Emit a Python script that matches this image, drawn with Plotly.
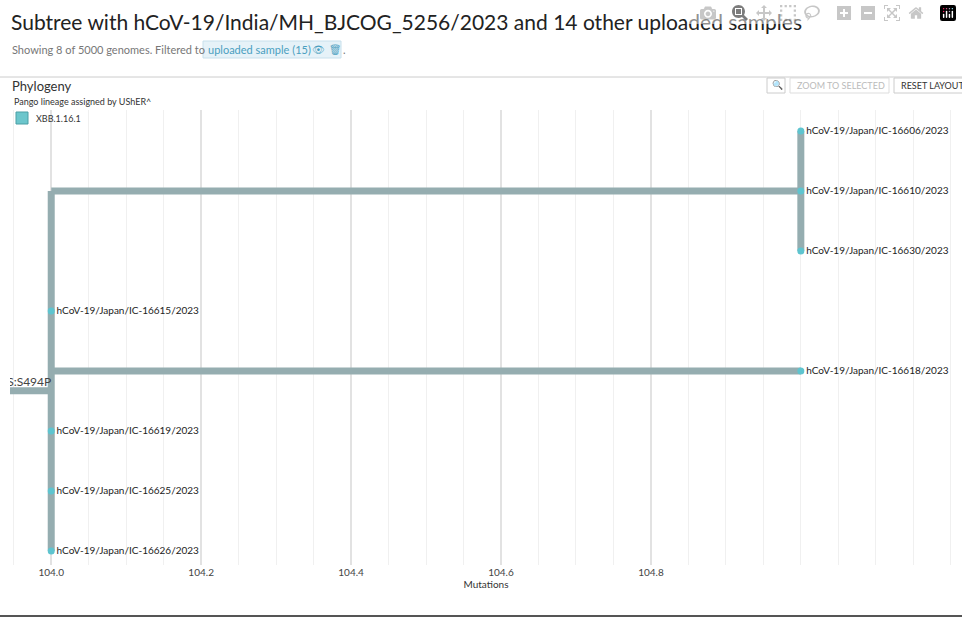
import plotly.graph_objects as go

leaf_names = ["hCoV-19/Japan/IC-16606/2023", "hCoV-19/Japan/IC-16610/2023", "hCoV-19/Japan/IC-16630/2023",
              "hCoV-19/Japan/IC-16615/2023", "hCoV-19/Japan/IC-16618/2023", "hCoV-19/Japan/IC-16619/2023",
              "hCoV-19/Japan/IC-16625/2023", "hCoV-19/Japan/IC-16626/2023"]
leaf_x = [105.0, 105.0, 105.0, 104.0, 105.0, 104.0, 104.0, 104.0]
leaf_y = [0, 1, 2, 3, 4, 5, 6, 7]
# branches: (x0, y0, x1, y1)
branches = [(103.9, 4.33, 104.0, 4.33), (104.0, 1, 104.0, 7), (104.0, 1, 105.0, 1),
            (105.0, 0, 105.0, 2), (104.0, 4, 105.0, 4)]
root_label = "S:S494P"
tick_vals = [104.0, 104.2, 104.4, 104.6, 104.8]

X0, X1, Y0, Y1 = 10, 962, 110, 565
def px(x): return (x - X0) / (X1 - X0)
def py(y): return (Y1 - y) / (Y1 - Y0)

fig = go.Figure()
bc = "#95adb0"
for (a, b, c, d) in branches:
    fig.add_trace(go.Scatter(x=[a, c], y=[b, d], mode="lines", line=dict(color=bc, width=7),
                             hoverinfo="skip", showlegend=False))
fig.add_trace(go.Scatter(x=leaf_x, y=leaf_y, mode="markers+text", text=leaf_names,
                         textposition="middle right", textfont=dict(size=10, color="#222", family="Lato"),
                         marker=dict(color="#5ec4cf", size=7), showlegend=False, cliponaxis=False))
fig.add_trace(go.Scatter(x=[104.0], y=[4.2], mode="text", text=[root_label], textposition="middle left",
                         textfont=dict(size=12, color="#444", family="Lato"), showlegend=False, cliponaxis=True))

fig.update_xaxes(range=[103.945, 105.215], tickvals=tick_vals, ticktext=[f"{v:.1f}" for v in tick_vals],
                 showgrid=True, gridcolor="#e2e2e2", gridwidth=2, zeroline=False,
                 minor=dict(dtick=0.05, showgrid=True, gridcolor="#f0f0f0", gridwidth=1, tick0=104.0),
                 title=dict(text="Mutations", font=dict(size=10, color="#333"), standoff=2),
                 tickfont=dict(size=10, color="#444"), ticks="", showline=False)
fig.update_yaxes(range=[7.233, -0.35], visible=False)

ann = [
    dict(x=px(9), y=py(21), text="Subtree with hCoV-19/India/MH_BJCOG_5256/2023 and 14 other uploaded samples",
         font=dict(size=21, color="#222")),
    dict(x=px(10), y=py(49), text="Showing 8 of 5000 genomes. Filtered to", font=dict(size=11, color="#777")),
    dict(x=px(206), y=py(49), text="uploaded sample (15)", font=dict(size=11, color="#4a9fc0")),
    dict(x=px(341), y=py(49), text=".", font=dict(size=11, color="#777")),
    dict(x=px(10), y=py(86), text="Phylogeny", font=dict(size=13, color="#333")),
    dict(x=px(12), y=py(101), text="Pango lineage assigned by UShER^", font=dict(size=9, color="#333")),
    dict(x=px(34), y=py(118), text="XBB.1.16.1", font=dict(size=9, color="#333")),
    dict(x=px(795), y=py(86), text="ZOOM TO SELECTED", font=dict(size=9, color="#bbb")),
    dict(x=px(899), y=py(86), text="RESET LAYOUT", font=dict(size=9, color="#333")),
    dict(x=px(770), y=py(85), text="🔍", font=dict(size=9, color="#333")),
    dict(x=px(310), y=py(49), text="👁", font=dict(size=10, color="#4a9fc0")),
    dict(x=px(327), y=py(49), text="🗑", font=dict(size=10, color="#4a9fc0")),
]
for a in ann:
    a.update(xref="paper", yref="paper", xanchor="left", yanchor="middle", showarrow=False)
    a["font"]["family"] = "Lato"
    fig.add_annotation(**a)

def rect(x0, y0, x1, y1, **kw):
    fig.add_shape(type="rect", xref="paper", yref="paper", x0=px(x0), x1=px(x1), y0=py(y1), y1=py(y0), **kw)
rect(203, 41, 341, 58, fillcolor="#e6f2f8", line=dict(color="#c8e0ec", width=1), layer="below")
rect(16, 112, 28, 124, fillcolor="#6cc6cc", line=dict(color="#4a9fa5", width=1))
rect(767, 78, 785, 93, line=dict(color="#ccc", width=1))
rect(790, 78, 889, 93, line=dict(color="#ddd", width=1))
rect(894, 78, 970, 93, line=dict(color="#ccc", width=1))
fig.add_shape(type="line", xref="paper", yref="paper", x0=px(0), x1=px(962), y0=py(77), y1=py(77),
              line=dict(color="#ccc", width=1))
fig.add_shape(type="line", xref="paper", yref="paper", x0=px(0), x1=px(962), y0=py(616), y1=py(616),
              line=dict(color="#555", width=2))

fig.update_layout(width=962, height=618, margin=dict(l=X0, r=962 - X1, t=Y0, b=618 - Y1),
                  plot_bgcolor="white", paper_bgcolor="white", font=dict(family="Lato"))
fig.write_html("out.html",
               post_script="document.body.style.margin='0';document.body.style.overflow='hidden';")
